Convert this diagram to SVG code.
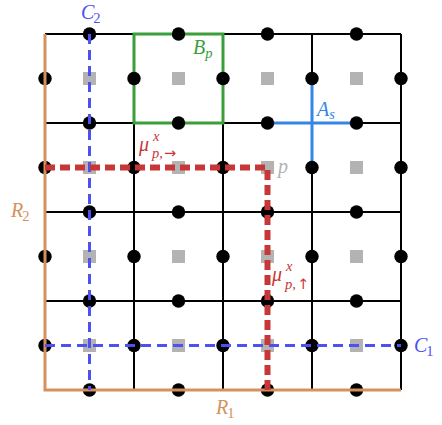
<svg xmlns="http://www.w3.org/2000/svg" width="442" height="425" viewBox="0 0 442 425">
<style>
.grid{stroke:#000;stroke-width:2;fill:none}
.plaq{fill:#b3b3b3}
.q{fill:#000}
.lbl{font-family:"Liberation Serif","DejaVu Serif",serif;font-style:italic;font-size:20px}
.sub{font-size:14.5px}
.rm{font-style:normal}
.arr{font-family:"DejaVu Sans","Liberation Sans",sans-serif;font-style:normal}
</style>
<rect width="442" height="425" fill="#fff"/>
<g id="lattice" class="grid">
<path d="M45,34H401M45,123H401M45,212H401M45,301H401M45,390H401"/>
<path d="M45,34V390M134,34V390M223,34V390M312,34V390M401,34V390"/>
</g>
<g id="plaquettes" class="plaq">
<rect x="83" y="72" width="13" height="13"/><rect x="172" y="72" width="13" height="13"/><rect x="261" y="72" width="13" height="13"/><rect x="350" y="72" width="13" height="13"/>
<rect x="83" y="161" width="13" height="13"/><rect x="172" y="161" width="13" height="13"/><rect x="261" y="161" width="13" height="13"/><rect x="350" y="161" width="13" height="13"/>
<rect x="83" y="250" width="13" height="13"/><rect x="172" y="250" width="13" height="13"/><rect x="261" y="250" width="13" height="13"/><rect x="350" y="250" width="13" height="13"/>
<rect x="83" y="339" width="13" height="13"/><rect x="172" y="339" width="13" height="13"/><rect x="261" y="339" width="13" height="13"/><rect x="350" y="339" width="13" height="13"/>
</g>
<g id="Bp">
<rect x="134" y="34" width="89" height="89" fill="none" stroke="#3a9e3a" stroke-width="3"/>
<text class="lbl" x="193" y="54" fill="#3a9e3a">B<tspan class="sub" dy="4">p</tspan></text>
</g>
<g id="As">
<path d="M312,78.5V167.5M267.5,123H356.5" stroke="#3385e6" stroke-width="3" fill="none"/>
<text class="lbl" x="317" y="116" fill="#3385e6">A<tspan class="sub" dy="3">s</tspan></text>
</g>
<g id="qubits" class="q">
<circle cx="89.5" cy="34" r="6.7"/><circle cx="178.5" cy="34" r="6.7"/><circle cx="267.5" cy="34" r="6.7"/><circle cx="356.5" cy="34" r="6.7"/>
<circle cx="89.5" cy="123" r="6.7"/><circle cx="178.5" cy="123" r="6.7"/><circle cx="267.5" cy="123" r="6.7"/><circle cx="356.5" cy="123" r="6.7"/>
<circle cx="89.5" cy="212" r="6.7"/><circle cx="178.5" cy="212" r="6.7"/><circle cx="267.5" cy="212" r="6.7"/><circle cx="356.5" cy="212" r="6.7"/>
<circle cx="89.5" cy="301" r="6.7"/><circle cx="178.5" cy="301" r="6.7"/><circle cx="267.5" cy="301" r="6.7"/><circle cx="356.5" cy="301" r="6.7"/>
<circle cx="89.5" cy="390" r="6.7"/><circle cx="178.5" cy="390" r="6.7"/><circle cx="267.5" cy="390" r="6.7"/><circle cx="356.5" cy="390" r="6.7"/>
<circle cx="45" cy="78.5" r="6.7"/><circle cx="45" cy="167.5" r="6.7"/><circle cx="45" cy="256.5" r="6.7"/><circle cx="45" cy="345.5" r="6.7"/>
<circle cx="134" cy="78.5" r="6.7"/><circle cx="134" cy="167.5" r="6.7"/><circle cx="134" cy="256.5" r="6.7"/><circle cx="134" cy="345.5" r="6.7"/>
<circle cx="223" cy="78.5" r="6.7"/><circle cx="223" cy="167.5" r="6.7"/><circle cx="223" cy="256.5" r="6.7"/><circle cx="223" cy="345.5" r="6.7"/>
<circle cx="312" cy="78.5" r="6.7"/><circle cx="312" cy="167.5" r="6.7"/><circle cx="312" cy="256.5" r="6.7"/><circle cx="312" cy="345.5" r="6.7"/>
<circle cx="401" cy="78.5" r="6.7"/><circle cx="401" cy="167.5" r="6.7"/><circle cx="401" cy="256.5" r="6.7"/><circle cx="401" cy="345.5" r="6.7"/>
</g>
<g id="connectors">
<g id="R-boundary">
<path d="M45,34V390H401" stroke="#d4915d" stroke-width="3" fill="none"/>
<text class="lbl" x="11" y="217" fill="#d4915d">R<tspan class="sub rm" dy="4" dx="-1">2</tspan></text>
<text class="lbl" x="216" y="414" fill="#d4915d">R<tspan class="sub rm" dy="4" dx="-1">1</tspan></text>
</g>
<g id="C-loops" stroke="#5050f0" stroke-width="3" stroke-dasharray="10 6" fill="none">
<path d="M89.5,34V390"/>
<path d="M45,345.5H401"/>
</g>
<g id="mu-string">
<path d="M45,167.5H267.5V390" stroke="#c83737" stroke-width="6" stroke-dasharray="10 5" fill="none"/>
</g>
</g>
<g id="labels">
<text class="lbl" x="81" y="19" fill="#5050f0">C<tspan class="sub rm" dy="4" dx="-1">2</tspan></text>
<text class="lbl" x="414" y="352" fill="#5050f0">C<tspan class="sub rm" dy="4" dx="-1">1</tspan></text>
<text class="lbl" x="278" y="173" fill="#b3b3b3">p</text>
<text class="lbl" x="139" y="151" fill="#c83737">μ</text>
<text class="lbl sub" x="153" y="141" fill="#c83737">x</text>
<text class="lbl sub" x="152" y="158" fill="#c83737">p,<tspan class="arr" dx="1">→</tspan></text>
<text class="lbl" x="272" y="281" fill="#c83737">μ</text>
<text class="lbl sub" x="286" y="271" fill="#c83737">x</text>
<text class="lbl sub" x="285" y="289" fill="#c83737">p,<tspan class="arr" dx="1">↑</tspan></text>
</g>
</svg>
